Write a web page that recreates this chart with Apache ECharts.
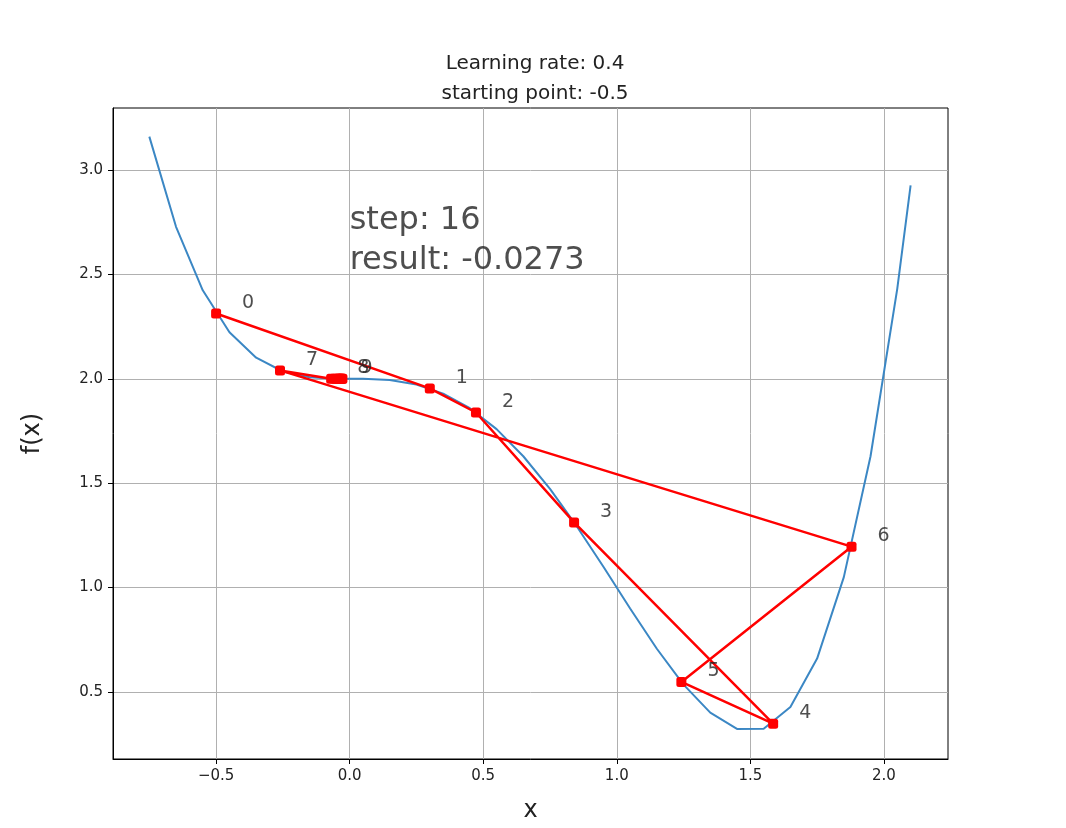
<!DOCTYPE html>
<html><head><meta charset="utf-8">
<script src="https://cdn.jsdelivr.net/npm/echarts@6/dist/echarts.min.js"></script>
<style>html,body{margin:0;padding:0;background:#fff}#c{width:1066px;height:828px}</style>
</head><body><div id="c"></div>
<script>
const curveX = [-0.75,-0.65,-0.55,-0.45,-0.35,-0.25,-0.15,-0.05,0.05,0.15,0.25,0.35,0.45,0.55,0.65,0.75,0.85,0.95,1.05,1.15,1.25,1.35,1.45,1.55,1.65,1.75,1.85,1.95,2.05,2.1];
const curveY = [3.160,2.728,2.424,2.223,2.101,2.035,2.007,2.000,2.000,1.994,1.973,1.929,1.859,1.759,1.629,1.473,1.294,1.100,0.900,0.707,0.535,0.401,0.323,0.324,0.428,0.660,1.050,1.629,2.431,2.926];
const stepX = [-0.5,0.3,0.4728,0.8402,1.5854,1.2418,1.8788,-0.2608,-0.0692,-0.0572,-0.0490,-0.0430,-0.0384,-0.0348,-0.0318,-0.0293,-0.0272];
const stepY = [2.3125,1.954,1.8386,1.312,0.348,0.548,1.196,2.0401,2.0007,2.0003,2.0002,2.0001,2.0001,2.0001,2.0001,2.0000,2.0000];
const labelCount = 10;
const xTicks = [-0.5,0.0,0.5,1.0,1.5,2.0];
const yTicks = [0.5,1.0,1.5,2.0,2.5,3.0];
const titleLines = ['Learning rate: 0.4','starting point: -0.5'];
const infoText = ['step: 16','result: -0.0273'];

const chart = echarts.init(document.getElementById('c'));
const labelData = stepX.slice(0,labelCount).map((x,i)=>[x+0.12, stepY[i]+0.05, i]);
chart.setOption({
  animation:false,
  title:{text:titleLines.join('\n'),left:530,textAlign:'center',top:44,
    textStyle:{fontSize:20,fontWeight:'normal',color:'#222',lineHeight:30,fontFamily:'DejaVu Sans'}},
  grid:{left:113,right:118,top:108,bottom:68,show:true,borderColor:'#000',borderWidth:1,backgroundColor:'transparent'},
  xAxis:{type:'value',min:-0.886,max:2.24,name:'x',nameLocation:'middle',nameGap:40,
    nameTextStyle:{fontSize:24,color:'#222',fontFamily:'DejaVu Sans'},
    axisLine:{show:true,onZero:false,lineStyle:{color:'#000'}},
    axisTick:{show:true,customValues:xTicks,length:5,lineStyle:{color:'#000'}},
    axisLabel:{customValues:xTicks,fontSize:15,color:'#222',fontFamily:'DejaVu Sans',formatter:v=>v.toFixed(1).replace('-','−'),margin:10},
    splitLine:{show:true,lineStyle:{color:'#b0b0b0',width:1}}},
  yAxis:{type:'value',min:0.179,max:3.297,name:'f(x)',nameLocation:'middle',nameGap:68,nameRotate:90,
    nameTextStyle:{fontSize:24,color:'#222',fontFamily:'DejaVu Sans'},
    axisLine:{show:true,onZero:false,lineStyle:{color:'#000'}},
    axisTick:{show:true,customValues:yTicks,length:5,lineStyle:{color:'#000'}},
    axisLabel:{customValues:yTicks,fontSize:15,color:'#222',fontFamily:'DejaVu Sans',formatter:v=>v.toFixed(1),margin:10},
    splitLine:{show:true,lineStyle:{color:'#b0b0b0',width:1}}},
  series:[
    {type:'line',data:curveX.map((x,i)=>[x,curveY[i]]),showSymbol:false,lineStyle:{color:'#3b87c4',width:2},z:2},
    {type:'line',data:stepX.map((x,i)=>[x,stepY[i]]),symbol:'roundRect',symbolSize:10,
      itemStyle:{color:'#ff0000'},lineStyle:{color:'#ff0000',width:2.5},z:3},
    {type:'scatter',data:labelData,symbolSize:0,z:4,
      label:{show:true,position:'inside',formatter:p=>String(p.value[2]),fontSize:19,color:'#222',fontFamily:'DejaVu Sans'}},
    {type:'scatter',data:[[0.0,2.47]],symbolSize:0,z:5,
      label:{show:true,position:[0,0],align:'left',verticalAlign:'bottom',formatter:infoText.join('\n'),
        fontSize:32,lineHeight:40,color:'#222',fontFamily:'DejaVu Sans'}}
  ]
});
</script></body></html>
